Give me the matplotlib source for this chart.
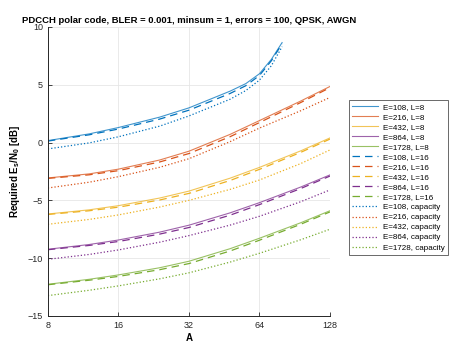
import matplotlib
matplotlib.use('Agg')
import matplotlib.pyplot as plt

plt.rcParams['font.family'] = ['Liberation Sans', 'DejaVu Sans']
plt.rcParams['mathtext.default'] = 'regular'

# data
A = [8, 12, 16, 24, 32, 48, 64, 96, 128]
A_108 = [8, 12, 16, 24, 32, 48, 56, 64, 72, 80]
E_values = [108, 216, 432, 864, 1728]

l8_108 = [0.17, 0.75, 1.3, 2.2, 3.0, 4.45, 5.1, 5.95, 7.2, 8.65]
l8_216 = [-3.06, -2.71, -2.3, -1.51, -0.75, 0.71, 1.9, 3.59, 4.85]
l8_432 = [-6.18, -5.82, -5.46, -4.8, -4.2, -3.08, -2.15, -0.72, 0.4]
l8_864 = [-9.23, -8.82, -8.43, -7.75, -7.15, -6.08, -5.2, -3.85, -2.8]
l8_1728 = [-12.26, -11.83, -11.45, -10.83, -10.27, -9.18, -8.28, -6.94, -5.9]

l16_108 = [0.13, 0.67, 1.17, 2.03, 2.8, 4.25, 4.92, 5.8, 7.08, 8.55]
l16_216 = [-3.1, -2.79, -2.43, -1.68, -0.95, 0.51, 1.73, 3.46, 4.75]
l16_432 = [-6.22, -5.9, -5.59, -4.97, -4.4, -3.28, -2.32, -0.85, 0.3]
l16_864 = [-9.27, -8.9, -8.56, -7.92, -7.35, -6.28, -5.37, -3.98, -2.9]
l16_1728 = [-12.3, -11.91, -11.58, -11.0, -10.47, -9.38, -8.45, -7.07, -6.0]

cap_108 = [-0.55, -0.03, 0.5, 1.42, 2.3, 3.75, 4.5, 5.4, 6.65, 8.3]
cap_216 = [-3.93, -3.43, -2.95, -2.14, -1.4, 0.08, 1.25, 2.75, 3.9]
cap_432 = [-7.07, -6.65, -6.26, -5.58, -5.0, -4.05, -3.24, -1.82, -0.64]
cap_864 = [-10.1, -9.68, -9.29, -8.62, -8.05, -7.14, -6.38, -5.12, -4.1]
cap_1728 = [-13.24, -12.78, -12.4, -11.79, -11.27, -10.34, -9.58, -8.41, -7.5]

colors = ['#0072BD', '#D95319', '#EDB120', '#7E2F8E', '#77AC30']

l8 = [l8_108, l8_216, l8_432, l8_864, l8_1728]
l16 = [l16_108, l16_216, l16_432, l16_864, l16_1728]
cap = [cap_108, cap_216, cap_432, cap_864, cap_1728]

fig = plt.figure(figsize=(4.74, 3.55), dpi=100)
ax = fig.add_axes([0.101, 0.110, 0.595, 0.814])

def xs(i):
    return A_108 if i == 0 else A

for i, E in enumerate(E_values):
    ax.plot(xs(i), l8[i], '-', color=colors[i], lw=0.8, alpha=0.75, label='E=%d, L=8' % E)
for i, E in enumerate(E_values):
    ax.plot(xs(i), l16[i], '--', color=colors[i], lw=0.9, dashes=(6, 4), label='E=%d, L=16' % E)
for i, E in enumerate(E_values):
    ax.plot(xs(i), cap[i], ':', color=colors[i], lw=0.9, label='E=%d, capacity' % E)

ax.set_xscale('log', base=2)
ax.set_xlim(8, 128)
ax.set_ylim(-15, 10)
ax.set_xticks([8, 16, 32, 64, 128])
ax.set_xticklabels(['8', '16', '32', '64', '128'])
ax.set_yticks([-15, -10, -5, 0, 5, 10])
ax.minorticks_off()
ax.grid(True, color='#e6e6e6', lw=0.6)
ax.tick_params(direction='in', labelsize=6.5, colors='#262626', length=3, width=0.6)
ax.spines['top'].set_visible(False)
ax.spines['right'].set_visible(False)
for s in ['left', 'bottom']:
    ax.spines[s].set_color('#262626')
    ax.spines[s].set_linewidth(0.7)

ax.set_title('PDCCH polar code, BLER = 0.001, minsum = 1, errors = 100, QPSK, AWGN',
             fontsize=6.8, fontweight='bold', pad=3)
ax.set_xlabel('A', fontsize=7, fontweight='bold', labelpad=2)
ax.set_ylabel(r'Required E$_s$/N$_0$ [dB]', fontsize=7, fontweight='bold', labelpad=4)

leg = fig.legend(loc='upper left', bbox_to_anchor=(0.728, 0.730), fontsize=5.8,
                 frameon=True, fancybox=False, handlelength=3.2, labelspacing=0.3,
                 borderpad=0.4, handletextpad=0.6)
leg.get_frame().set_edgecolor('#262626')
leg.get_frame().set_linewidth(0.6)

fig.savefig('out.png', dpi=100)
